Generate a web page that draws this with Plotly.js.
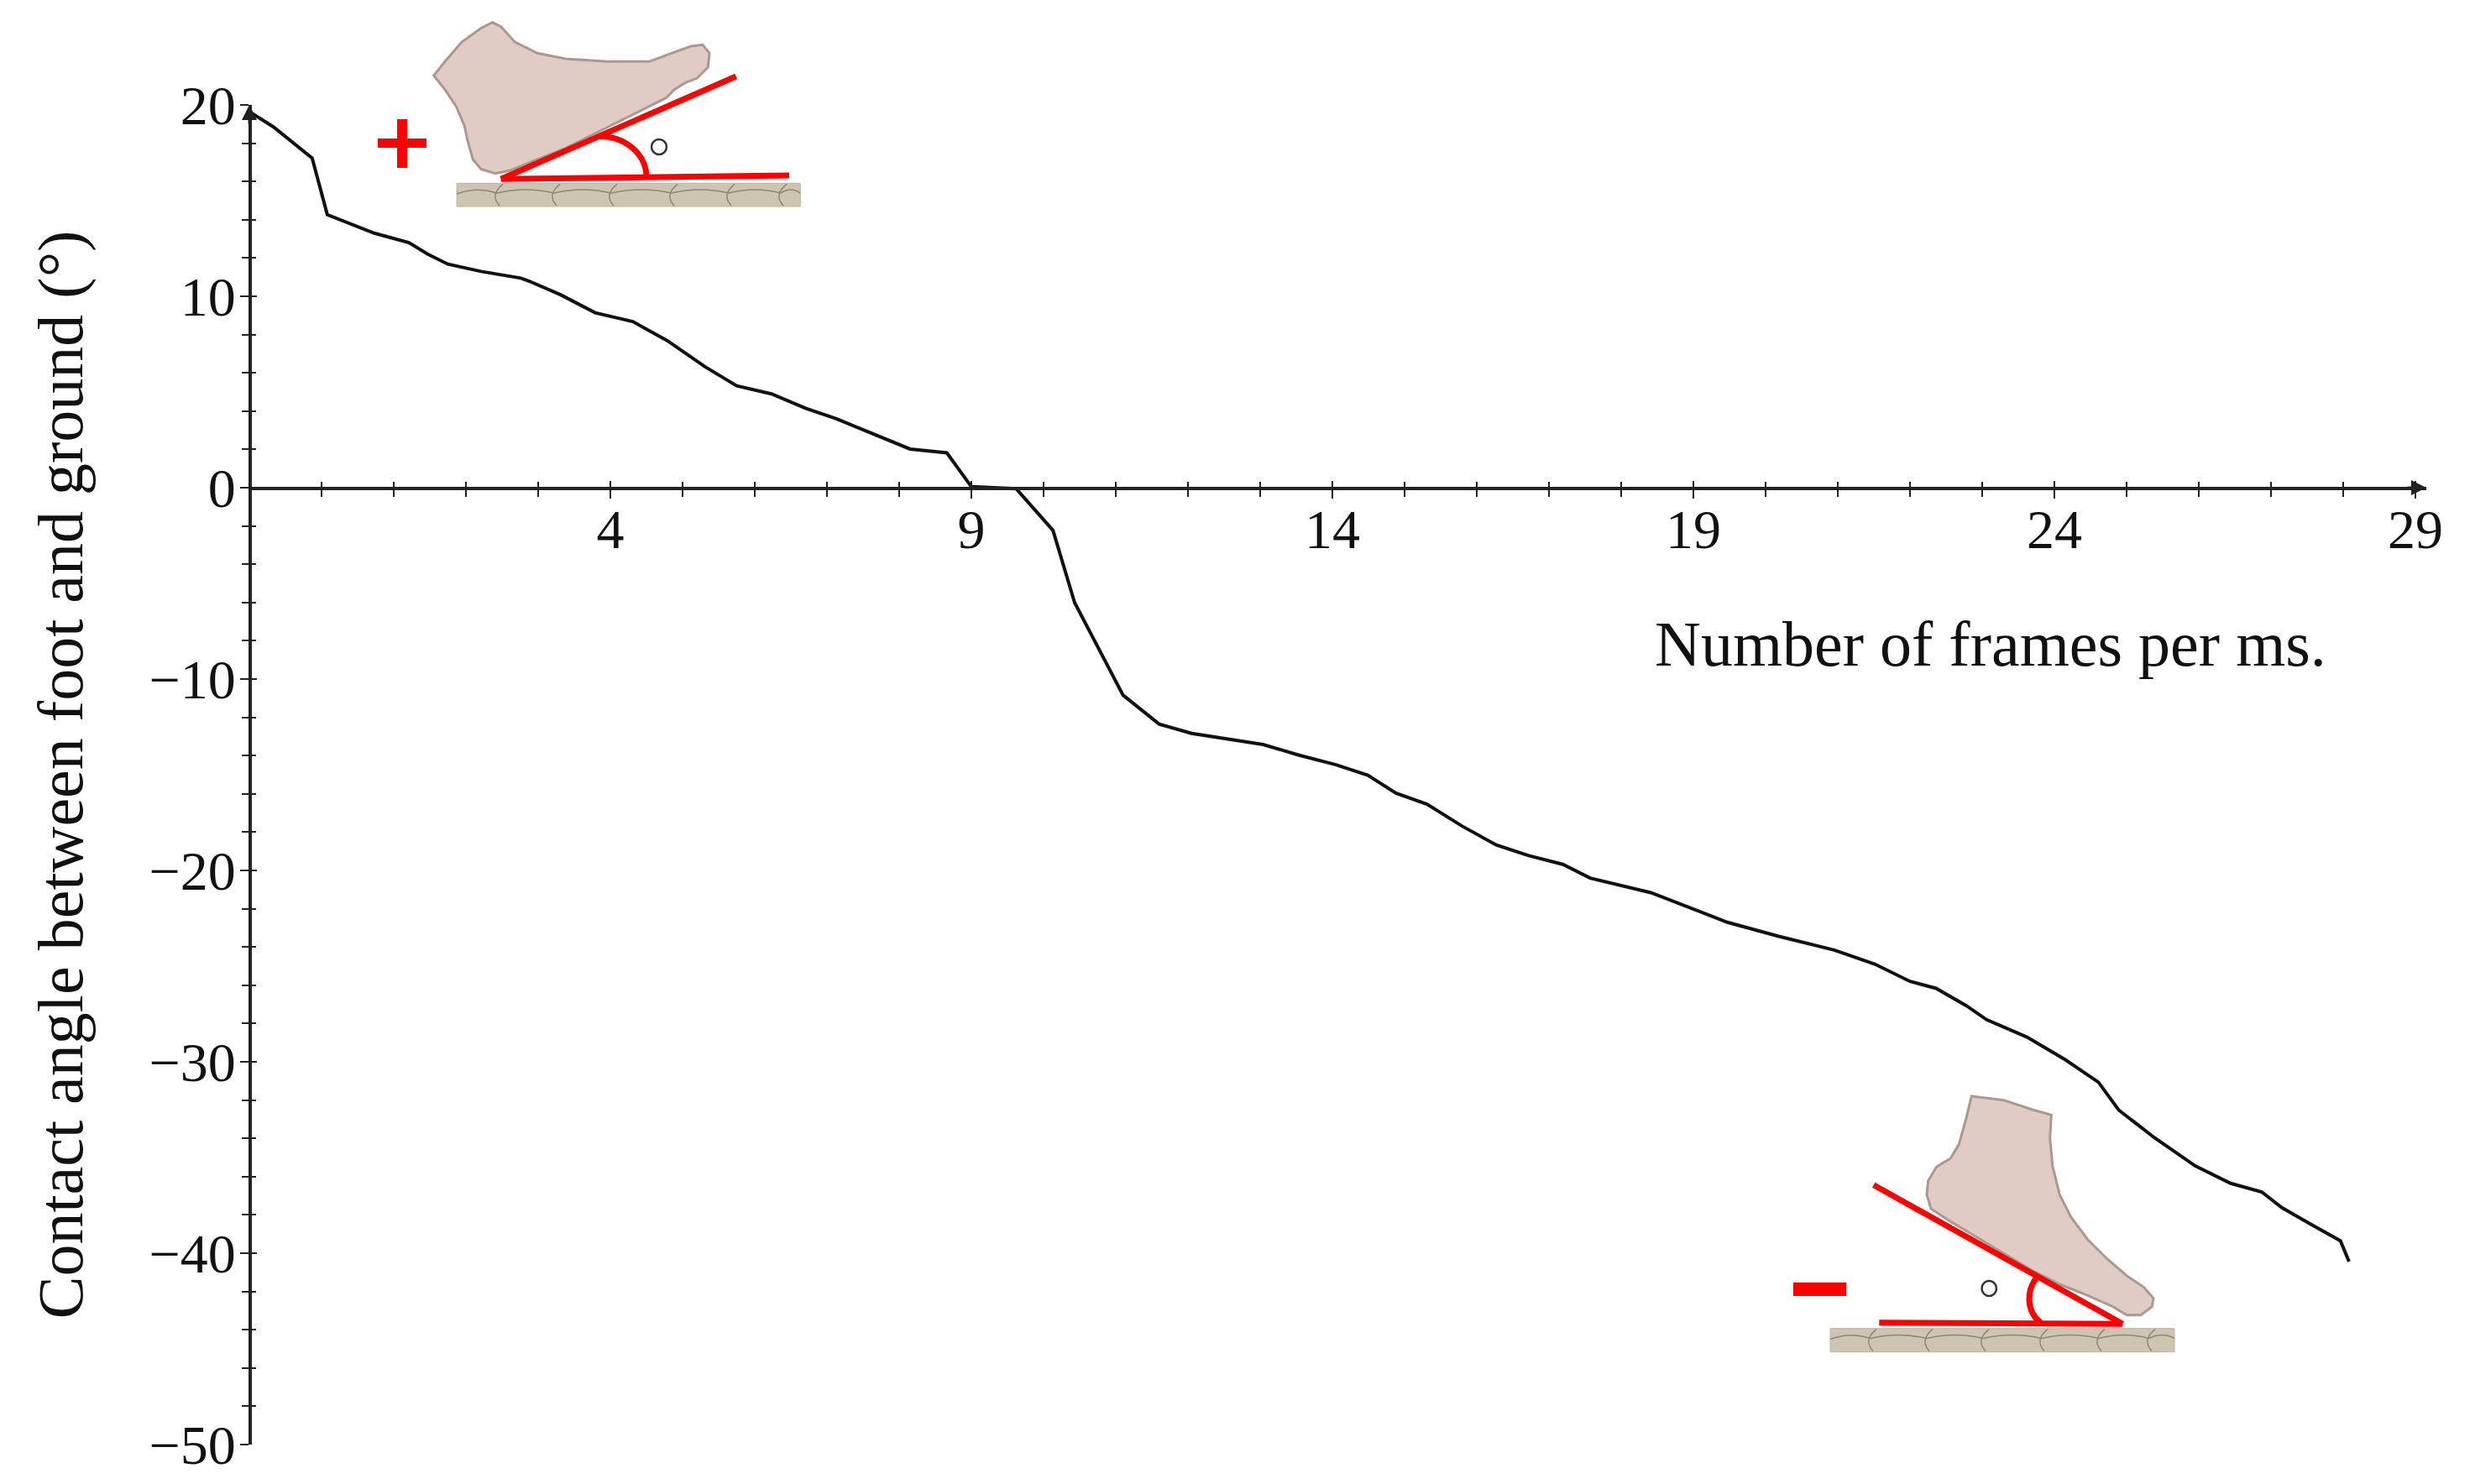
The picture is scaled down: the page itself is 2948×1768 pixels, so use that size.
<!DOCTYPE html>
<html>
<head>
<meta charset="utf-8">
<script src="https://cdn.plot.ly/plotly-3.0.1.min.js"></script>
<style>html,body{margin:0;padding:0;background:#fff;}#chart{width:2948px;height:1768px;}</style>
</head>
<body>
<div id="chart"></div>
<script>
// ---- data ----
const frames = [-0.98,-0.67,-0.13,0.08,0.73,1.21,1.47,1.75,2.21,2.76,2.87,3.31,3.79,4.31,4.79,5.31,5.75,6.23,6.71,7.13,
  8.15,8.66,9.0,9.62,10.13,10.43,11.1,11.6,12.05,12.59,13.04,13.54,14.05,14.49,14.88,15.31,15.79,16.27,16.72,17.19,17.57,
  18.41,18.97,19.47,20.17,20.95,21.51,22.0,22.36,22.78,23.06,23.62,24.15,24.61,24.89,25.39,25.95,26.44,26.87,27.15,27.57,27.96,28.08];
const angle = [19.6,18.86,17.22,14.26,13.3,12.8,12.2,11.68,11.3,10.95,10.8,10.08,9.14,8.68,7.68,6.32,5.32,4.9,4.14,3.6,
  2.02,1.82,0.05,-0.05,-2.23,-6.01,-10.84,-12.35,-12.84,-13.14,-13.42,-13.98,-14.48,-15.03,-15.96,-16.54,-17.67,-18.67,-19.23,-19.68,-20.4,
  -21.16,-21.98,-22.71,-23.43,-24.16,-24.89,-25.8,-26.16,-27.07,-27.8,-28.71,-29.89,-31.07,-32.52,-33.98,-35.44,-36.35,-36.8,-37.62,-38.53,-39.35,-40.44];
const xTickVals = [4, 9, 14, 19, 24, 29];
const yTickVals = [-50, -40, -30, -20, -10, 0, 10, 20];
const xRange = [-1, 29.15];
const yRange = [-50, 20];
const xTitle = 'Number of frames per ms.';
const yTitle = 'Contact angle between foot and ground (°)';

// ---- layout geometry ----
const W = 2948, H = 1768;
const PL = 297, PR = 2890, PT = 125, PB = 1721;
const fx = x => (x - PL) / (PR - PL);
const fy = y => (PB - y) / (PB - PT);
const pp = p => fx(p[0]).toFixed(5) + ',' + fy(p[1]).toFixed(5);
const poly = (pts, close) => 'M ' + pts.map(pp).join(' L ') + (close ? ' Z' : '');
const zeroPos = (0 - yRange[0]) / (yRange[1] - yRange[0]);

const FONT = '"Liberation Serif", "DejaVu Serif", serif';
const AX = '#222';
const RED = '#ff0000';
const SKIN = '#e0ccc5';
const SKINLINE = '#ad9890';
const STONE = '#cdc5b1';
const STONELINE = '#8f8775';

// ---- illustration pieces (pixel geometry, converted to paper) ----
const footTop = [[516.7,90],[530,73.3],[550,50],[573.3,33.3],[586.7,26.7],[596.7,31.7],[613.3,50],[640,63.3],[673.3,70],[723.3,73.3],
  [773.3,73.3],[800,63.3],[823.3,55],[836.7,53.3],[845,63.3],[843.3,80],[830,93.3],[816.7,98.3],[803.3,106.7],[793.3,116.7],
  [773.3,126.7],[740,143.3],[706.7,160],[673.3,176.7],[640,190],[606.7,203.3],[590,206.7],[573.3,201.7],[563.3,190],[556.7,166.7],
  [553.3,150],[543.3,126.7],[530,106.7]];
const footBot = [[2348.3,1306],[2386.7,1310.7],[2420,1321.7],[2443.3,1328.3],[2441.7,1356.7],[2445,1390],[2453.3,1423.3],[2466.7,1450],
  [2486.7,1476.7],[2510,1500],[2533.3,1520],[2553.3,1533.3],[2565,1546.7],[2563.3,1556.7],[2550,1566.7],[2533.3,1566.7],[2516.7,1556.7],
  [2486.7,1543.3],[2453.3,1530],[2420,1513.3],[2386.7,1493.3],[2353.3,1473.3],[2320,1453.3],[2300,1440],[2295,1423.3],[2296.7,1406.7],
  [2306.7,1390],[2323.3,1380],[2333.3,1363.3],[2341.7,1333.3]];

function stones(x0, x1, y0, y1, seps) {
  const out = [];
  const mid = y0 + (y1 - y0) * 0.35;
  seps.forEach(sx => {
    out.push({type:'path', xref:'paper', yref:'paper',
      path: 'M ' + pp([sx + 7, y0 + 1]) + ' Q ' + pp([sx - 9, (y0 + y1) / 2]) + ' ' + pp([sx + 3, y1 - 1]),
      line:{color:STONELINE, width:1.5}});
  });
  let d = 'M ' + pp([x0, mid + 3]);
  for (let i = 0; i < seps.length; i++) {
    const a = i === 0 ? x0 : seps[i - 1];
    const b = seps[i];
    d += ' Q ' + pp([(a + b) / 2, mid - 6]) + ' ' + pp([b, mid + 2]);
  }
  d += ' Q ' + pp([(seps[seps.length - 1] + x1) / 2, mid - 6]) + ' ' + pp([x1, mid + 2]);
  out.push({type:'path', xref:'paper', yref:'paper', path:d, line:{color:STONELINE, width:1.5}});
  return out;
}

const shapes = [];
function rect(x0, y0, x1, y1, fill, lc, lw) {
  shapes.push({type:'rect', xref:'paper', yref:'paper', x0:fx(x0), x1:fx(x1), y0:fy(y1), y1:fy(y0),
    fillcolor:fill, line:{color:lc || fill, width:lw || 0}});
}
// top illustration
rect(544, 218.3, 953.3, 246, STONE, '#beb6a1', 1);
shapes.push(...stones(544, 953.3, 218.3, 246, [592, 660, 728, 800, 868, 930]));
shapes.push({type:'path', xref:'paper', yref:'paper', path:poly(footTop, true), fillcolor:SKIN, line:{color:SKINLINE, width:3}});
shapes.push({type:'path', xref:'paper', yref:'paper', path:poly([[596.7,213.3],[940,209]]), line:{color:RED, width:7}});
shapes.push({type:'path', xref:'paper', yref:'paper', path:poly([[596.7,213.3],[876.7,91]]), line:{color:RED, width:7}});
shapes.push({type:'path', xref:'paper', yref:'paper',
  path:'M ' + pp([713,162.5]) + ' C ' + pp([745,162]) + ' ' + pp([770,184]) + ' ' + pp([770,211]), line:{color:RED, width:7}});
rect(450, 165, 508, 176, RED);
rect(473, 142, 485, 200, RED);
shapes.push({type:'circle', xref:'paper', yref:'paper', x0:fx(776), x1:fx(794), y0:fy(184), y1:fy(166), line:{color:'#333', width:2.5}});
// bottom illustration
rect(2180, 1582.7, 2590, 1610.7, STONE, '#beb6a1', 1);
shapes.push(...stones(2180, 2590, 1582.7, 1610.7, [2228, 2295, 2362, 2432, 2500, 2560]));
shapes.push({type:'path', xref:'paper', yref:'paper', path:poly(footBot, true), fillcolor:SKIN, line:{color:SKINLINE, width:3}});
shapes.push({type:'path', xref:'paper', yref:'paper', path:poly([[2238.3,1575.7],[2528.3,1577.3]]), line:{color:RED, width:7}});
shapes.push({type:'path', xref:'paper', yref:'paper', path:poly([[2231.7,1411.7],[2528.3,1577.3]]), line:{color:RED, width:7}});
shapes.push({type:'path', xref:'paper', yref:'paper',
  path:'M ' + pp([2425,1523.3]) + ' C ' + pp([2414,1538]) + ' ' + pp([2413,1562]) + ' ' + pp([2431,1576]), line:{color:RED, width:7}});
rect(2136, 1528, 2199, 1544, RED);
shapes.push({type:'circle', xref:'paper', yref:'paper', x0:fx(2360.5), x1:fx(2378), y0:fy(1544), y1:fy(1526), line:{color:'#333', width:2.5}});

const traces = [
  {x: frames, y: angle, type:'scatter', mode:'lines', line:{color:'#111', width:4}, showlegend:false, hoverinfo:'skip'},
  {x:[null], y:[null], xaxis:'x2', yaxis:'y2', type:'scatter', mode:'lines', showlegend:false, hoverinfo:'skip'}
];

const tickFont = {family: FONT, size: 66, color: '#111'};
const layout = {
  width: W, height: H,
  paper_bgcolor: '#fff', plot_bgcolor: '#fff',
  margin: {l: PL, r: W - PR, t: PT, b: H - PB, pad: 0},
  showlegend: false,
  xaxis: {
    range: xRange, anchor: 'free', position: zeroPos,
    showline: true, linecolor: AX, linewidth: 3.5,
    showgrid: false, zeroline: false,
    tickmode: 'array', tickvals: xTickVals, ticktext: xTickVals.map(String),
    ticks: 'outside', ticklen: 10, tickwidth: 2, tickcolor: AX, ticklabelstandoff: -20,
    minor: {tickmode: 'linear', tick0: -1, dtick: 1, ticks: 'outside', ticklen: 8, tickwidth: 2, tickcolor: AX, showgrid: false},
    tickfont: tickFont
  },
  xaxis2: {
    range: xRange, overlaying: 'x', anchor: 'free', position: zeroPos,
    showline: false, showgrid: false, zeroline: false, showticklabels: false,
    tickmode: 'array', tickvals: xTickVals,
    ticks: 'inside', ticklen: 8, tickwidth: 2, tickcolor: AX,
    minor: {tickmode: 'linear', tick0: -1, dtick: 1, ticks: 'inside', ticklen: 7, tickwidth: 2, tickcolor: AX, showgrid: false}
  },
  yaxis: {
    range: yRange, anchor: 'free', position: 0,
    showline: true, linecolor: AX, linewidth: 3.5,
    showgrid: false, zeroline: false,
    tickmode: 'array', tickvals: yTickVals, ticktext: yTickVals.map(v => v < 0 ? '\u2212' + Math.abs(v) : String(v)),
    ticks: 'outside', ticklen: 10, tickwidth: 2, tickcolor: AX, ticklabelstandoff: -8,
    minor: {tickmode: 'linear', tick0: -50, dtick: 2, ticks: 'outside', ticklen: 8, tickwidth: 2, tickcolor: AX, showgrid: false},
    tickfont: tickFont,
    title: {text: yTitle, font: {family: FONT, size: 76, color: '#111'}, standoff: 52}
  },
  yaxis2: {
    range: yRange, overlaying: 'y', anchor: 'free', position: 0, side: 'left',
    showline: false, showgrid: false, zeroline: false, showticklabels: false,
    tickmode: 'array', tickvals: yTickVals,
    ticks: 'inside', ticklen: 8, tickwidth: 2, tickcolor: AX,
    minor: {tickmode: 'linear', tick0: -50, dtick: 2, ticks: 'inside', ticklen: 7, tickwidth: 2, tickcolor: AX, showgrid: false}
  },
  shapes: shapes,
  annotations: [
    {xref:'paper', yref:'paper', x: fx(2371), y: fy(767), text: xTitle, showarrow:false,
     xanchor:'center', yanchor:'middle', font:{family: FONT, size: 76, color:'#111'}},
    {xref:'paper', yref:'paper', x: 1, y: zeroPos, ax: -24, ay: 0, text:'', showarrow:true,
     arrowhead: 2, arrowsize: 1.2, arrowwidth: 3, arrowcolor: AX},
    {xref:'paper', yref:'paper', x: 0, y: 1, ax: 0, ay: 24, text:'', showarrow:true,
     arrowhead: 2, arrowsize: 1.2, arrowwidth: 3, arrowcolor: AX}
  ]
};

Plotly.newPlot('chart', traces, layout, {staticPlot: true, displayModeBar: false});
</script>
</body>
</html>
